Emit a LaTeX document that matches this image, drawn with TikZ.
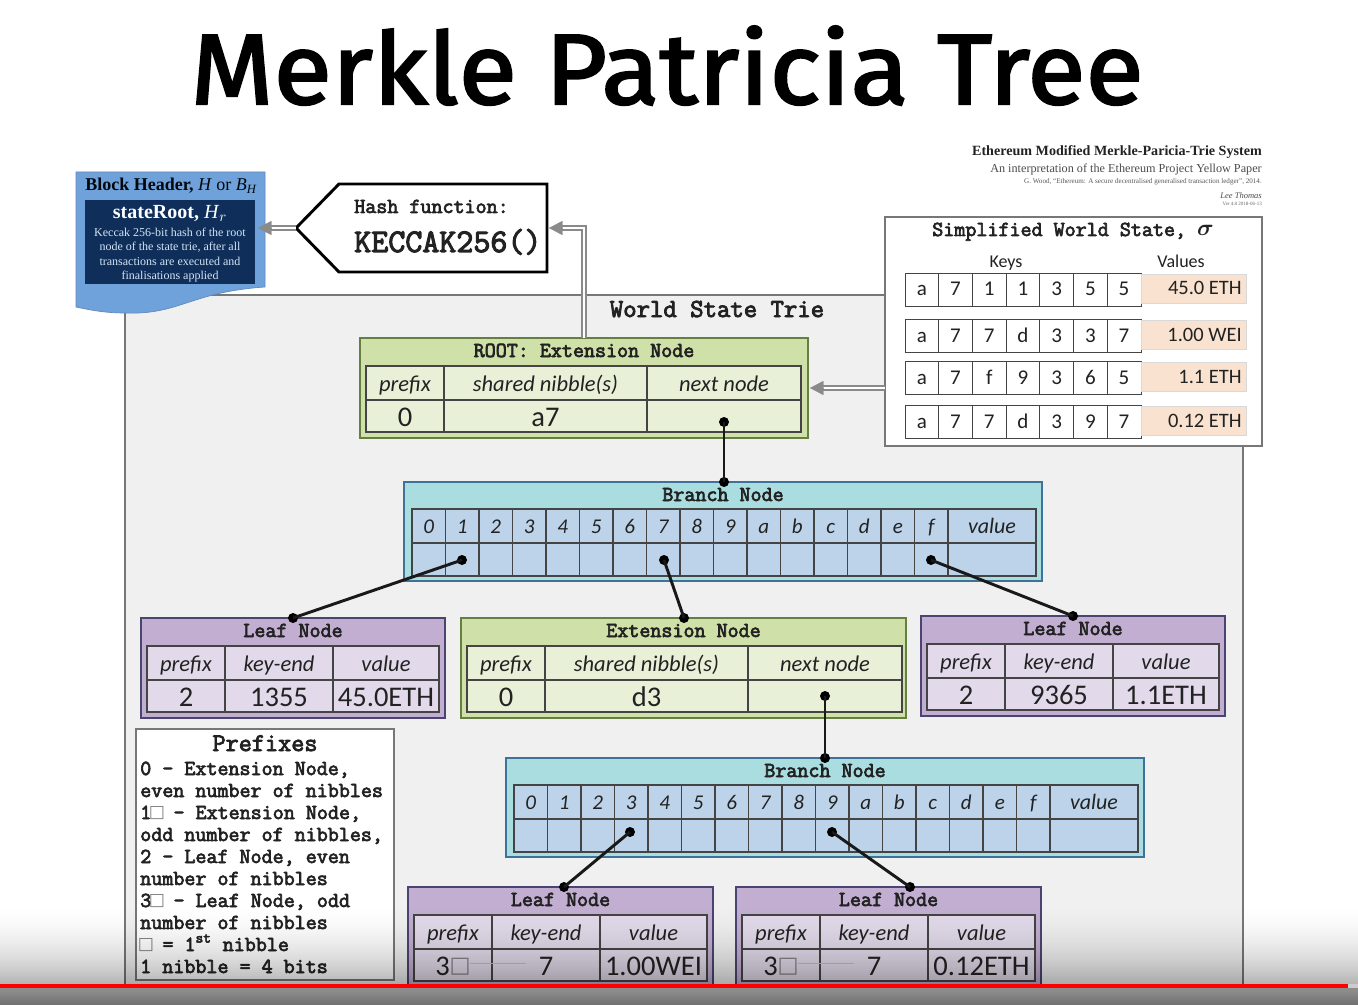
\documentclass[tikz,border=0pt]{standalone}
\usepackage{graphicx}
\usepackage{fontspec}
\usepackage{amsmath}
\usepackage{xfp}
\usetikzlibrary{arrows.meta}
\setmainfont{Liberation Serif}
\newfontfamily\titlef[FakeBold=2]{Fira Sans}
\newfontfamily\carl{Carlito}
\newfontfamily\symf{DejaVu Sans}
\newfontfamily\monof[FakeBold=3.2]{Latin Modern Mono}
\newcommand\fs[1]{\fontsize{\fpeval{#1*0.75}}{\fpeval{#1*0.9}}\selectfont}
\newcommand\mono[1]{\monof\fs{\fpeval{#1*1.02}}}
\definecolor{greenfill}{HTML}{CFE0A8}\definecolor{greenline}{HTML}{647F40}\definecolor{greencell}{HTML}{E8F0D8}
\definecolor{bluefill}{HTML}{A9DDE0}\definecolor{blueline}{HTML}{3F7299}\definecolor{bluecell}{HTML}{BCD3EA}
\definecolor{purpfill}{HTML}{C2AED0}\definecolor{purpline}{HTML}{4A4570}\definecolor{purpcell}{HTML}{E2DAEA}
\definecolor{gridc}{HTML}{444444}\definecolor{txtc}{HTML}{222222}\definecolor{frame}{HTML}{777777}
\definecolor{arrowc}{HTML}{8A8A8A}
\definecolor{hdrblue}{HTML}{6FA2DA}\definecolor{hdrdark}{HTML}{0F2F5A}\definecolor{peach}{HTML}{F9E3D0}
\tikzset{
  box/.style={draw,anchor=north west,outer sep=0pt,inner sep=0pt,line width=2pt},
  grid/.style={draw=gridc,line width=.9pt},
  lbl/.style={anchor=base,inner sep=0pt,text=txtc},
  dotn/.style={circle,fill=black,inner sep=0pt,minimum size=7.5pt},
  conn/.style={line width=2.2pt,black!90},
  dbl/.style={draw=arrowc,double=white,line width=1.3pt,double distance=1.6pt},
  tipa/.style={draw=arrowc,line width=.1pt,-{Triangle[length=10pt,width=10.5pt,fill=arrowc]}},
  sframe/.style={draw=frame,line width=2pt,fill=white}
}
\newcommand\sq{{\symf\color{gray}\raisebox{1.8pt}{\scalebox{0.78}{\symbol{"25A1}}}}}
\newcommand\msq{\makebox[8.4pt]{\symf\color{gray}\raisebox{1.1pt}{\scalebox{0.8}{\symbol{"25A1}}}}}
% three-column table box: name,x0,y0,w,tabw,col2,kind,title
\newcommand\triple[8]{%
  \node[box,draw=#7line,fill=#7fill,minimum width={#4*0.75pt},minimum height={100*0.75pt}] (#1) at (#2,#3) {};
  \xdef\tname{#1}\xdef\tx{\fpeval{#2+6}}\xdef\ty{\fpeval{#3+28}}\xdef\txa{\fpeval{#2+6+78}}\xdef\txb{\fpeval{#2+6+#6}}\xdef\txe{\fpeval{#2+6+#5}}%
  \fill[#7cell] (\tx,\ty) rectangle (\txe,\ty+66);
  \draw[grid] (\tx,\ty) rectangle (\txe,\ty+66) (\tx,\ty+34) -- (\txe,\ty+34) (\txa,\ty) -- (\txa,\ty+66) (\txb,\ty) -- (\txb,\ty+66);
  \node[lbl] (#1-t) at ({#2+#4/2},#3+19) {\mono{21}#8};
}
\newcommand\rowtext[6]{%
  \node[lbl] (\tname-h1) at ({(\tx+\txa)/2},\ty+25) {\carl\fs{22.5}\itshape #1};
  \node[lbl] (\tname-h2) at ({(\txa+\txb)/2},\ty+25) {\carl\fs{22.5}\itshape #2};
  \node[lbl] (\tname-h3) at ({(\txb+\txe)/2},\ty+25) {\carl\fs{22.5}\itshape #3};
  \node[lbl] (\tname-v1) at ({(\tx+\txa)/2},\ty+60) {\carl\fs{28.5}#4};
  \node[lbl] (\tname-v2) at ({(\txa+\txb)/2},\ty+60) {\carl\fs{28.5}#5};
  \node[lbl] (\tname-v3) at ({(\txb+\txe)/2},\ty+60) {\carl\fs{28.5}#6};
}
% branch node: name,x0,y0
\newcommand\branchbox[3]{%
  \node[box,draw=blueline,fill=bluefill,minimum width={638*0.75pt},minimum height={99*0.75pt}] (#1) at (#2,#3) {};
  \node[lbl] (#1-t) at ({#2+319},#3+19) {\mono{21}Branch Node};
  \fill[bluecell] ({#2+8},#3+27) rectangle ({#2+632},#3+94);
  \draw[grid] ({#2+8},#3+27) rectangle ({#2+632},#3+94) ({#2+8},#3+61) -- ({#2+632},#3+61);
  \foreach \lab [count=\i from 0] in {0,1,2,3,4,5,6,7,8,9,a,b,c,d,e,f}{
    \draw[grid] ({#2+8+33.5*(\i+1)},#3+27) -- ({#2+8+33.5*(\i+1)},#3+94);
    \node[lbl] (#1-c\i) at ({#2+8+33.5*(\i+.5)},#3+51) {\carl\fs{21}\itshape \lab};
  }
  \node[lbl] (#1-val) at ({#2+588},#3+51) {\carl\fs{22}\itshape value};
}
% world state row: name,ytop,values list,value text,value box height
\newcommand\wsrow[5]{%
  \node[draw=gridc,line width=1pt,fill=white,anchor=north west,inner sep=0pt,minimum width={236*0.75pt},minimum height={33*0.75pt}] (#1) at (905,#2) {};
  \foreach \lab [count=\i from 0] in {#3}{
    \ifnum\i>0 \draw[grid] ({905+33.7*\i},#2) -- ({905+33.7*\i},#2+33);\fi
    \node[lbl] (#1-\i) at ({905+33.7*(\i+.5)},#2+23) {\carl\fs{21}\lab};
  }
  \node[anchor=north west,fill=peach,draw=black!15,line width=.5pt,inner sep=0pt,minimum width={105*0.75pt},minimum height={#5*0.75pt}] (#1-vb) at (1141,#2+1) {};
  \node[lbl,anchor=base east] (#1-v) at (1242,#2+22) {\carl\fs{20.5}#4};
}
\begin{document}
\begin{tikzpicture}[x=0.75pt,y=-0.75pt]
\useasboundingbox (0,0) rectangle (1358,1005);
\fill[white] (0,0) rectangle (1358,1005);
% title
\node[anchor=base,inner sep=0pt] (title) at (667,104) {\resizebox{714.75pt}{58.5pt}{\titlef Merkle Patricia Tree}};
% world state trie
\node[box,draw=frame,fill=black!6,line width=1.8pt,minimum width={1118*0.75pt},minimum height={693*0.75pt}] (wst) at (125,295) {};
\node[lbl] (wstt) at (717,317) {\mono{25.5}World State Trie};
% block header
\path[fill=hdrblue,draw=hdrblue!85!black,line width=.5pt] (76,172) -- (265,172) -- (265,287) .. controls (190,292) and (180,315) .. (125,313) .. controls (105,313) and (90,310) .. (76,307) -- cycle;
\node[lbl,text=black!85!hdrdark] (bh) at (171,191) {\fs{18}\textbf{Block Header,} \textit{H} or \textit{B}$_{\mathit{H}}$};
\node[anchor=north west,fill=hdrdark,inner sep=0pt,minimum width={170*0.75pt},minimum height={84*0.75pt}] (sr) at (85,200) {};
\node[lbl,text=white] (srt) at (170,219) {\fs{20}\textbf{stateRoot,} \textit{H}$_{r}$};
\node[lbl,text=white!70!hdrblue] (l1) at (170,237) {\fs{12}Keccak 256-bit hash of the root};
\node[lbl,text=white!70!hdrblue] (l2) at (170,251) {\fs{12}node of the state trie, after all};
\node[lbl,text=white!70!hdrblue] (l3) at (170,266) {\fs{12}transactions are executed and};
\node[lbl,text=white!70!hdrblue] (l4) at (170,280) {\fs{12}finalisations applied};
% hash function
\path[draw=black,fill=white,line width=2.2pt,line join=miter] (296,228) coordinate (hashtip) -- (339,184) -- (547,184) -- (547,228) coordinate (hashin) -- (547,272) -- (339,272) -- cycle;
\node[lbl,anchor=base west] (hf) at (354,213) {\mono{21}Hash function:};
\node[lbl,anchor=base west] (hk) at (354,252) {\mono{32.4}KECCAK256()};
% credits
\node[lbl,anchor=base east] (c1) at (1262,156) {\fs{14.1}\textbf{Ethereum Modified Merkle-Paricia-Trie System}};
\node[lbl,anchor=base east,text=black!70] (c2) at (1262,173) {\fs{12.2}An interpretation of the Ethereum Project Yellow Paper};
\node[lbl,anchor=base east,text=black!65] (c3) at (1262,184) {\fs{7.1}G. Wood, ``Ethereum: A secure decentralised generalised transaction ledger'', 2014.};
\node[lbl,anchor=base east,text=black!70] (c4) at (1262,199) {\fs{8.5}\textit{Lee Thomas}};
\node[lbl,anchor=base east,text=black!60] (c5) at (1262,206) {\fs{5}Ver 4.8 2018-06-13};
% simplified world state
\node[box,sframe,minimum width={377*0.75pt},minimum height={229*0.75pt}] (ws) at (885,217) {};
\node[lbl] (wst1) at (1073,236) {\mono{21}Simplified World State, $\boldsymbol{\sigma}$};
\node[lbl] (keys) at (1006,268) {\carl\fs{18}Keys};
\node[lbl] (vals) at (1181,268) {\carl\fs{18}Values};
\wsrow{r1}{273}{a,7,1,1,3,5,5}{45.0 ETH}{29}
\wsrow{r2}{319}{a,7,7,d,3,3,7}{1.00 WEI}{29}
\wsrow{r3}{361}{a,7,f,9,3,6,5}{1.1 ETH}{29}
\wsrow{r4}{405}{a,7,7,d,3,9,7}{0.12 ETH}{29}
% node tables
\triple{root}{360}{338}{448}{435}{281}{green}{ROOT: Extension Node}
\rowtext{prefix}{shared nibble(s)}{next node}{0}{a7}{}
\branchbox{b1}{404}{482}
\triple{leafa}{141}{618}{304}{292}{186}{purp}{Leaf Node}
\rowtext{prefix}{key-end}{value}{2}{1355}{45.0ETH}
\triple{ext}{461}{618}{445}{435}{281}{green}{Extension Node}
\rowtext{prefix}{shared nibble(s)}{next node}{0}{d3}{}
\triple{leafb}{921}{616}{304}{292}{186}{purp}{Leaf Node}
\rowtext{prefix}{key-end}{value}{2}{9365}{1.1ETH}
\branchbox{b2}{506}{758}
\triple{leafc}{408}{887}{305}{293}{186}{purp}{Leaf Node}
\rowtext{prefix}{key-end}{value}{3\sq}{7}{1.00WEI}
\coordinate (fa1) at (470,963); \coordinate (fa2) at (526,963);
\draw[black!25,line width=.5pt] (fa1) -- (fa2);
\triple{leafd}{736}{887}{305}{293}{186}{purp}{Leaf Node}
\rowtext{prefix}{key-end}{value}{3\sq}{7}{0.12ETH}
\coordinate (fb1) at (798,963); \coordinate (fb2) at (854,963);
\draw[black!25,line width=.5pt] (fb1) -- (fb2);
% prefixes
\node[box,sframe,minimum width={258*0.75pt},minimum height={251*0.75pt}] (pre) at (136,729) {};
\node[lbl] (pret) at (265,751) {\mono{25}Prefixes};
\node[lbl,anchor=base west] (p1) at (140,775) {\mono{21}0 - Extension Node,};
\node[lbl,anchor=base west] (p2) at (140,797) {\mono{21}even number of nibbles};
\node[lbl,anchor=base west] (p3) at (140,819) {\mono{21}1\msq{} - Extension Node,};
\node[lbl,anchor=base west] (p4) at (140,841) {\mono{21}odd number of nibbles,};
\node[lbl,anchor=base west] (p5) at (140,863) {\mono{21}2 - Leaf Node, even};
\node[lbl,anchor=base west] (p6) at (140,885) {\mono{21}number of nibbles};
\node[lbl,anchor=base west] (p7) at (140,907) {\mono{21}3\msq{} - Leaf Node, odd};
\node[lbl,anchor=base west] (p8) at (140,929) {\mono{21}number of nibbles};
\node[lbl,anchor=base west] (p9) at (140,951) {\mono{21}\msq{} = 1\textsuperscript{st} nibble};
\node[lbl,anchor=base west] (p10) at (140,973) {\mono{21}1 nibble = 4 bits};
% double arrows
\coordinate (rootout) at (584,338);
\coordinate (cornr) at (584,228);
\coordinate (hashend) at (549,228);
\coordinate (hdrend) at (258,228);
\coordinate (wsout) at (885,388);
\coordinate (rootin) at (810,388);
\draw[dbl] (rootout) -- (cornr) -- ([xshift=10pt]hashend);
\draw[tipa] ([xshift=10pt]hashend) -- (hashend);
\draw[dbl] (hashtip) -- ([xshift=10pt]hdrend);
\draw[tipa] ([xshift=10pt]hdrend) -- (hdrend);
\draw[dbl] (wsout) -- ([xshift=10pt]rootin);
\draw[tipa] ([xshift=10pt]rootin) -- (rootin);
% connectors
\node[dotn] (d0a) at (724,422) {}; \node[dotn] (d0b) at (724,482) {};
\node[dotn] (d1a) at (462,560) {}; \node[dotn] (d1b) at (293,618) {};
\node[dotn] (d2a) at (664,560) {}; \node[dotn] (d2b) at (684,618) {};
\node[dotn] (d3a) at (931,560) {}; \node[dotn] (d3b) at (1073,616) {};
\node[dotn] (d4a) at (825,696) {}; \node[dotn] (d4b) at (825,758) {};
\node[dotn] (d5a) at (630,832) {}; \node[dotn] (d5b) at (564,887) {};
\node[dotn] (d6a) at (832,832) {}; \node[dotn] (d6b) at (910,887) {};
\foreach \a/\b in {d0a/d0b,d1a/d1b,d2a/d2b,d3a/d3b,d4a/d4b,d5a/d5b,d6a/d6b}{\draw[conn] (\a.center) -- (\b.center);}
% video player overlay
\foreach \yy in {900,902,...,982}{
  \pgfmathsetmacro\oo{0.30*((\yy-900)/84)^2}
  \fill[black,fill opacity=\oo] (0,\yy) rectangle (1358,\yy+2);
}
\fill[black!45] (0,984) rectangle (1358,990);
\foreach \yy in {990,992,...,1004}{
  \pgfmathsetmacro\cc{45+(\yy-990)*0.8}
  \fill[black!\cc] (0,\yy) rectangle (1358,\yy+2);
}
\fill[red] (0,984) rectangle (1348,988);
\fill[black!20] (1348,984) rectangle (1358,988);
\end{tikzpicture}
\end{document}
